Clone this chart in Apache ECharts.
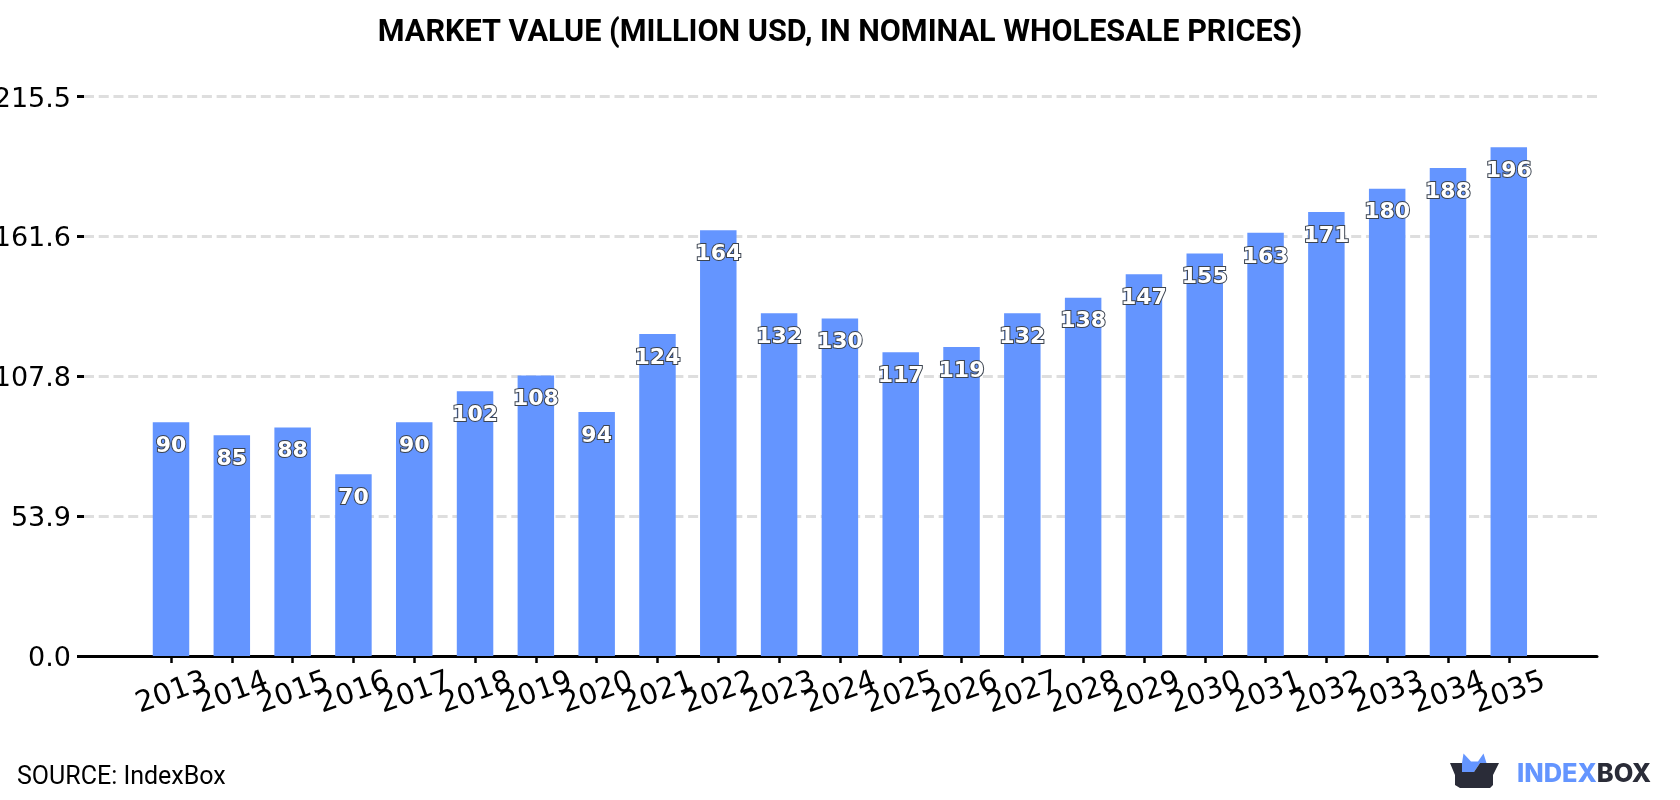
<!DOCTYPE html>
<html>
<head>
<meta charset="utf-8">
<style>html,body{margin:0;padding:0;background:#fff}#c{width:1680px;height:800px}</style>
<script src="https://cdn.jsdelivr.net/npm/echarts@6/dist/echarts.min.js"></script>
</head>
<body>
<div id="c"></div>
<script>
const years = ['2013','2014','2015','2016','2017','2018','2019','2020','2021','2022','2023','2024','2025','2026','2027','2028','2029','2030','2031','2032','2033','2034','2035'];
const marketValue = [90,85,88,70,90,102,108,94,124,164,132,130,117,119,132,138,147,155,163,171,180,188,196];
const valueTicks = [0,53.9,107.8,161.6,215.5];
const titleText = 'MARKET VALUE (MILLION USD, IN NOMINAL WHOLESALE PRICES)';
const sourceText = 'SOURCE: IndexBox';

const BLUE = '#6495ff', DARK = '#2a2c38';
const chart = echarts.init(document.getElementById('c'), null, {renderer:'canvas'});
chart.setOption({
  animation:false,
  backgroundColor:'#fff',
  title:{text:titleText,left:835,top:13,textAlign:'center',
    textStyle:{fontFamily:'Roboto',fontWeight:'bold',fontSize:30.6,color:'#000'}},
  grid:[
    // frame: value axis, gridlines and the long baseline
    {left:84,width:1513,top:96.5,height:559.5,outerBoundsMode:'none'},
    // bars sit in a narrower band inside the frame
    {left:140.6,width:1398.6,top:96.5,height:559.5,outerBoundsMode:'none'}
  ],
  xAxis:[
    {gridIndex:0,type:'value',min:0,max:1,axisLine:{show:true,onZero:false,lineStyle:{color:'#000',width:3}},
      axisTick:{show:false},axisLabel:{show:false},splitLine:{show:false}},
    {gridIndex:1,type:'category',data:years,position:'bottom',
      axisLine:{show:false},
      axisTick:{show:true,alignWithLabel:true,length:7,lineStyle:{color:'#000',width:2.5}},
      axisLabel:{interval:0,rotate:20,margin:22,fontFamily:'DejaVu Sans',fontSize:29,color:'#000',align:'center',verticalAlign:'top',padding:[0,9,0,0]},
      splitLine:{show:false}}
  ],
  yAxis:[
    {gridIndex:0,type:'value',min:0,max:215.5,
      axisLine:{show:false},
      axisTick:{show:true,length:7,lineStyle:{color:'#000',width:3},customValues:valueTicks},
      axisLabel:{margin:13,fontFamily:'DejaVu Sans',fontSize:27,color:'#000',verticalAlign:'top',lineHeight:6,
        customValues:valueTicks,formatter:v=>v.toFixed(1)},
      splitLine:{show:true,lineStyle:{color:'#dedede',width:3,type:[10,4.735]}}},
    {gridIndex:1,type:'value',min:0,max:215.5,show:false,splitLine:{show:false}}
  ],
  series:[{
    type:'bar',xAxisIndex:1,yAxisIndex:1,data:marketValue,barWidth:'60%',
    itemStyle:{color:BLUE},
    label:{show:true,position:'insideTop',distance:13,fontFamily:'DejaVu Sans',fontWeight:'bold',fontSize:22,
      color:'#fff',textBorderColor:'#3c4450',textBorderWidth:2}
  }],
  graphic:[
    {type:'text',left:17,top:765,style:{text:sourceText,fontFamily:'Roboto',fontSize:25,fill:'#000'}},
    // box logo: blue flaps rising out of a dark open box
    {type:'polygon',shape:{points:[[1462,763],[1463.5,753.5],[1471,761.5],[1478,761.5],[1483.5,753.5],[1486.5,763],[1480,763],[1474,772],[1462,772]]},style:{fill:BLUE}},
    {type:'polygon',shape:{points:[[1450,763],[1462,763],[1462,772],[1474,772],[1480,763],[1499,763],[1493,775],[1493,785],[1490,788],[1460,788],[1455,785],[1455,775]]},style:{fill:DARK}},
    {type:'text',left:1517,top:762,style:{rich:{a:{fontFamily:'Inter',fontWeight:800,fontSize:25.4,fill:BLUE},b:{fontFamily:'Inter',fontWeight:800,fontSize:25.4,fill:DARK}},text:'{a|INDEX}{b|BOX}'}}
  ]
});
</script>
</body>
</html>
